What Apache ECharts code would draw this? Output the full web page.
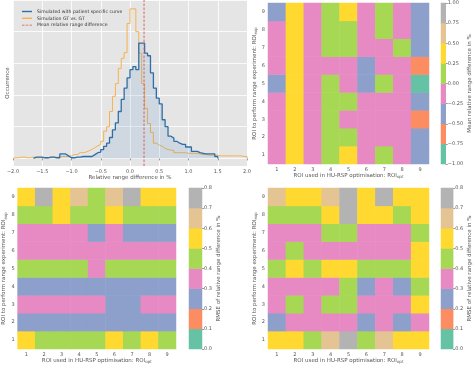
<!DOCTYPE html>
<html><head><meta charset="utf-8">
<script src="https://cdn.jsdelivr.net/npm/echarts@6/dist/echarts.min.js"></script>
<style>html,body{margin:0;padding:0;background:#fff}#c{width:474px;height:366px}</style>
</head><body><div id="c"></div>
<script>
// ---------- histogram data ----------
const binWidth = 0.05;
const orangeStart = -2.0;
const orangeCounts = [1,1,2,2,1,1,2,1,1,1, 1,1,2,2,2,2,3,3,3,4, 6,6,9,9,10,12,14,17,20,22,
  27,43,50,74,98,118,142,158,167,213, 236,236,200,166,118,79,55,41,24,21,
  19,16,14,13,13,9,9,9,9,8, 8,8,8,7,6,6,5,5,5,5, 4,4,4,4,4,4,4,4,3,3];
const blueStart = -1.65;
const blueCounts = [2,2,2,1,1,2,2,1,1,7, 7,4,1,1,2,2,3,3,3,3,
  6,9,10,14,19,24,33,45,56,74, 93,111,127,140,145,140,182,182,166,162,
  135,111,95,86,61,50,35,32,27,24, 22,22,18,18,11,11,9,8,7,7, 7,7,3];
const meanDiff = 0.24;
const histXTicks = [-2.0,-1.5,-1.0,-0.5,0.0,0.5,1.0,1.5,2.0];

// ---------- heatmap data (rows: ROI_exp 1..9 bottom->top, cols: ROI_opt 1..9) ----------
const roiLabels = ['1','2','3','4','5','6','7','8','9'];
const meanDiffMatrix = [
  [-0.08, 0.42,-0.15, 0.11, 0.31,-0.12, 0.08,-0.18,-0.36],
  [-0.10, 0.40,-0.14, 0.06, 0.04,-0.16,-0.05,-0.13,-0.41],
  [-0.12, 0.39,-0.17, 0.05,-0.04,-0.20,-0.09,-0.15,-0.55],
  [-0.09, 0.41,-0.13, 0.09, 0.02,-0.22,-0.11,-0.19,-0.44],
  [-0.27, 0.36,-0.18, 0.03,-0.06,-0.29, 0.05,-0.21,-0.82],
  [-0.20, 0.33,-0.16,-0.03,-0.08,-0.31,-0.07,-0.17,-0.58],
  [-0.14, 0.37,-0.11, 0.07, 0.04,-0.10,-0.02, 0.03,-0.39],
  [-0.11, 0.38,-0.12, 0.08, 0.06,-0.13, 0.04,-0.06,-0.43],
  [-0.26, 0.44,-0.10, 0.12, 0.27,-0.09, 0.07,-0.08,-0.35]
];
const rmseMatrixLeft = [
  [0.52,0.46,0.44,0.45,0.47,0.53,0.48,0.51,0.46],
  [0.26,0.25,0.27,0.26,0.28,0.24,0.25,0.27,0.26],
  [0.32,0.31,0.33,0.32,0.31,0.28,0.29,0.31,0.32],
  [0.27,0.26,0.28,0.27,0.26,0.25,0.27,0.28,0.27],
  [0.43,0.42,0.44,0.41,0.38,0.42,0.43,0.41,0.44],
  [0.36,0.35,0.37,0.34,0.36,0.35,0.37,0.36,0.35],
  [0.33,0.34,0.32,0.31,0.29,0.32,0.28,0.29,0.28],
  [0.46,0.47,0.52,0.45,0.44,0.51,0.46,0.47,0.45],
  [0.56,0.72,0.58,0.64,0.49,0.63,0.71,0.55,0.57]
];
const rmseMatrixRight = [
  [0.54,0.55,0.47,0.62,0.73,0.48,0.61,0.56,0.53],
  [0.29,0.33,0.34,0.32,0.33,0.28,0.31,0.27,0.34],
  [0.36,0.42,0.37,0.43,0.41,0.38,0.35,0.37,0.52],
  [0.34,0.36,0.35,0.38,0.41,0.29,0.33,0.28,0.43],
  [0.45,0.51,0.46,0.53,0.52,0.44,0.43,0.46,0.54],
  [0.37,0.41,0.38,0.36,0.35,0.37,0.38,0.36,0.51],
  [0.38,0.37,0.39,0.42,0.44,0.36,0.35,0.37,0.43],
  [0.47,0.46,0.48,0.53,0.74,0.52,0.54,0.46,0.55],
  [0.63,0.57,0.56,0.64,0.72,0.55,0.73,0.58,0.54]
];
const set2Colors = ['#66c2a5','#fc8d62','#8da0cb','#e78ac3','#a6d854','#ffd92f','#e5c494','#b3b3b3'];
const meanEdges = [-1.0,-0.75,-0.5,-0.25,0.0,0.25,0.5,0.75,1.0];
const rmseEdges = [0.0,0.1,0.2,0.3,0.4,0.5,0.6,0.7,0.8];

// ---------- helpers ----------
const FONT = 'DejaVu Sans';
const TXT = '#555555';
function stepPoints(start, counts) {
  const pts = [[start, 0]];
  counts.forEach((c, i) => pts.push([+(start + i * binWidth).toFixed(4), c]));
  pts.push([+(start + counts.length * binWidth).toFixed(4), 0]);
  return pts;
}
function heatData(m) {
  const d = [];
  m.forEach((row, r) => row.forEach((v, c) => d.push([c, r, v])));
  return d;
}
function pieces(edges) {
  return edges.slice(0, -1).map((e, k) => k === edges.length - 2
    ? { gte: e, lte: edges[k + 1], color: set2Colors[k] }
    : { gte: e, lt: edges[k + 1], color: set2Colors[k] });
}
function cbarData(edges) {
  return edges.slice(0, -1).map((e, k) => [0, k, (e + edges[k + 1]) / 2]);
}
const subRich = { s: { fontSize: 4, fontFamily: FONT, color: TXT, padding: [3, 0, 0, 0] } };
function heatX(gi, name) {
  return { type: 'category', gridIndex: gi, data: roiLabels,
    axisLine: { show: false }, axisTick: { alignWithLabel: true, length: 2, lineStyle: { color: TXT, width: 0.6 } },
    axisLabel: { fontSize: 5, color: TXT, fontFamily: FONT, margin: 3 },
    name: name, nameLocation: 'middle', nameGap: 8,
    nameTextStyle: { fontSize: 5.5, color: TXT, fontFamily: FONT, rich: subRich } };
}
function heatY(gi, name) {
  return { type: 'category', gridIndex: gi, data: roiLabels,
    axisLine: { show: false }, axisTick: { alignWithLabel: true, length: 2, lineStyle: { color: TXT, width: 0.6 } },
    axisLabel: { fontSize: 5, color: TXT, fontFamily: FONT, margin: 3 },
    name: name, nameLocation: 'middle', nameGap: 9, nameRotate: 90,
    nameTextStyle: { fontSize: 5.5, color: TXT, fontFamily: FONT, rich: subRich } };
}
function cbX(gi) { return { type: 'category', gridIndex: gi, data: ['c'], show: false }; }
function cbYcat(gi, n) { return { type: 'category', gridIndex: gi, data: Array.from({length: n}, (_, k) => 'b' + k), show: false }; }
function cbYval(gi, edges, digits, name) {
  return { type: 'value', gridIndex: gi, position: 'right', min: edges[0], max: edges[edges.length - 1],
    interval: +(edges[1] - edges[0]).toFixed(4),
    axisLine: { show: false }, splitLine: { show: false },
    axisTick: { show: true, length: 2, lineStyle: { color: TXT, width: 0.6 } },
    axisLabel: { fontSize: 5, color: TXT, fontFamily: FONT, margin: 2,
      formatter: v => (v < 0 ? '\u2212' : '') + Math.abs(v).toFixed(digits) },
    name: name, nameLocation: 'middle', nameGap: 13, nameRotate: 90,
    nameTextStyle: { fontSize: 5.5, color: TXT, fontFamily: FONT } };
}

const xName = 'ROI used in HU-RSP optimisation: ROI{s|opt}';
const yName = 'ROI to perform range experiment: ROI{s|exp}';

const option = {
  animation: false,
  grid: [
    { left: 13, top: 0, width: 234, height: 166, show: true, backgroundColor: '#E5E5E5', borderWidth: 0 },
    { left: 268, top: 3, width: 161, height: 161 },
    { left: 441, top: 3, width: 11, height: 161 },
    { left: 17, top: 188, width: 159, height: 161 },
    { left: 189, top: 188, width: 13, height: 161 },
    { left: 268, top: 188, width: 161, height: 161 },
    { left: 441, top: 188, width: 13, height: 161 }
  ],
  xAxis: [
    { type: 'value', gridIndex: 0, min: histXTicks[0], max: histXTicks[histXTicks.length - 1], interval: 0.5,
      axisLine: { show: false },
      axisTick: { show: true, length: 2, lineStyle: { color: TXT, width: 0.6 } },
      axisLabel: { fontSize: 5, color: TXT, fontFamily: FONT, margin: 3, formatter: v => (v < 0 ? '\u2212' : '') + Math.abs(v).toFixed(1) },
      splitLine: { show: true, lineStyle: { color: '#ffffff', width: 0.8 } },
      name: 'Relative range difference in %', nameLocation: 'middle', nameGap: 9,
      nameTextStyle: { fontSize: 5.5, color: TXT, fontFamily: FONT } },
    heatX(1, xName), cbX(2), heatX(3, xName), cbX(4), heatX(5, xName), cbX(6)
  ],
  yAxis: [
    { type: 'value', gridIndex: 0, min: -12, max: 250, splitNumber: 5,
      axisLine: { show: false }, axisTick: { show: false }, axisLabel: { show: false },
      splitLine: { show: true, lineStyle: { color: '#ffffff', width: 0.8 } },
      name: 'Occurrence', nameLocation: 'middle', nameGap: 2, nameRotate: 90,
      nameTextStyle: { fontSize: 5.5, color: TXT, fontFamily: FONT } },
    heatY(1, yName), cbYcat(2, 8), cbYval(2, meanEdges, 2, 'Mean relative range difference in %'),
    heatY(3, yName), cbYcat(4, 8), cbYval(4, rmseEdges, 1, 'RMSE of relative range difference in %'),
    heatY(5, yName), cbYcat(6, 8), cbYval(6, rmseEdges, 1, 'RMSE of relative range difference in %')
  ],
  legend: {
    left: 17, top: 4, orient: 'vertical', itemWidth: 10, itemHeight: 1.4, itemGap: 1.8,
    textStyle: { fontSize: 4.6, color: '#333', fontFamily: FONT },
    data: [
      { name: 'Simulated with patient specific curve', icon: 'rect' },
      { name: 'Simulation GT vs. GT', icon: 'rect' },
      { name: 'Mean relative range difference', icon: 'path://M0,0h3v1h-3zM4.5,0h3v1h-3zM9,0h3v1h-3z' }
    ]
  },
  visualMap: [
    { type: 'piecewise', show: false, dimension: 2, seriesIndex: [3, 4], pieces: pieces(meanEdges) },
    { type: 'piecewise', show: false, dimension: 2, seriesIndex: [5, 6, 7, 8], pieces: pieces(rmseEdges) }
  ],
  series: [
    { name: 'Simulated with patient specific curve', type: 'line', xAxisIndex: 0, yAxisIndex: 0, step: 'end',
      data: stepPoints(blueStart, blueCounts), symbol: 'none', z: 4,
      lineStyle: { color: '#2f6ea5', width: 1.3 }, itemStyle: { color: '#2f6ea5' },
      areaStyle: { color: 'rgba(52,130,200,0.18)' } },
    { name: 'Simulation GT vs. GT', type: 'line', xAxisIndex: 0, yAxisIndex: 0, step: 'end',
      data: stepPoints(orangeStart, orangeCounts), symbol: 'none', z: 3,
      lineStyle: { color: '#f2b350', width: 1 }, itemStyle: { color: '#f2b350' } },
    { name: 'Mean relative range difference', type: 'line', xAxisIndex: 0, yAxisIndex: 0,
      data: [[meanDiff, -12], [meanDiff, 250]], symbol: 'none', z: 5,
      lineStyle: { color: '#d9534f', width: 0.9, type: [2.5, 1.5] }, itemStyle: { color: '#d9534f' } },
    { type: 'heatmap', xAxisIndex: 1, yAxisIndex: 1, data: heatData(meanDiffMatrix) },
    { type: 'heatmap', xAxisIndex: 2, yAxisIndex: 2, data: cbarData(meanEdges) },
    { type: 'heatmap', xAxisIndex: 3, yAxisIndex: 4, data: heatData(rmseMatrixLeft) },
    { type: 'heatmap', xAxisIndex: 4, yAxisIndex: 5, data: cbarData(rmseEdges) },
    { type: 'heatmap', xAxisIndex: 5, yAxisIndex: 7, data: heatData(rmseMatrixRight) },
    { type: 'heatmap', xAxisIndex: 6, yAxisIndex: 8, data: cbarData(rmseEdges) }
  ]
};
const chart = echarts.init(document.getElementById('c'), null, { renderer: 'canvas' });
chart.setOption(option);
</script></body></html>
